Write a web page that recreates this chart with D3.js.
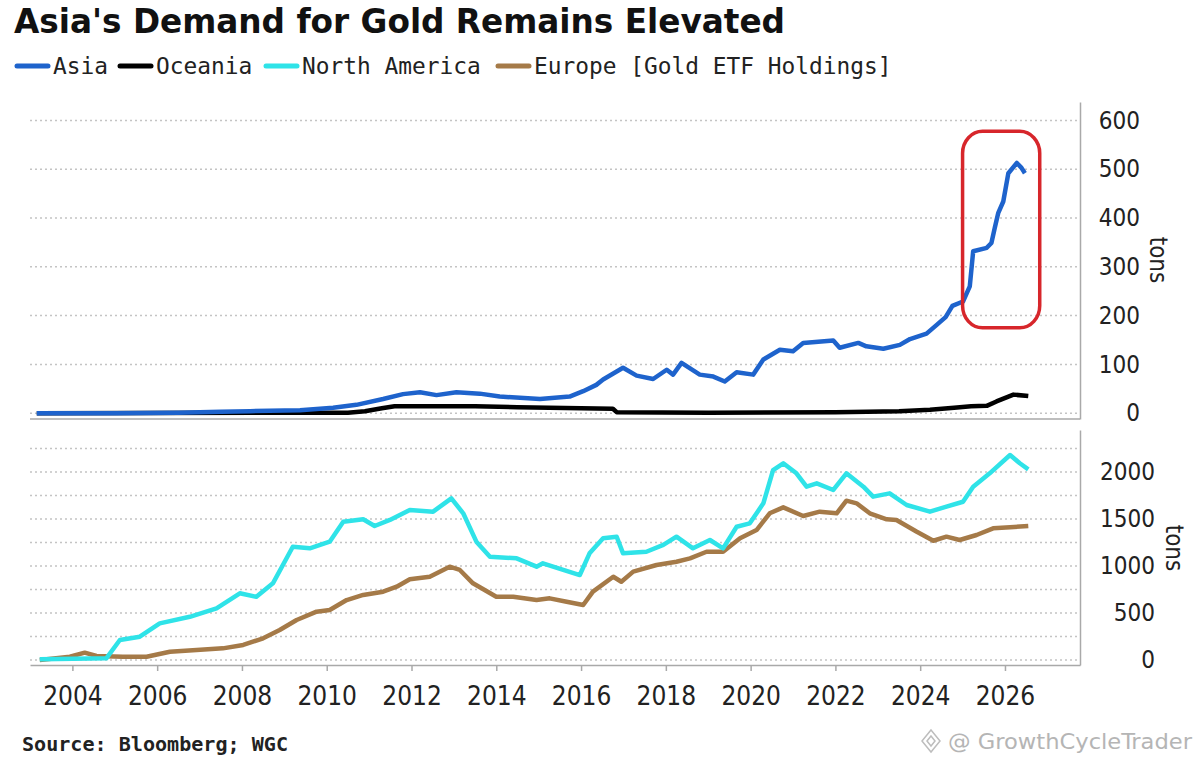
<!DOCTYPE html>
<html>
<head>
<meta charset="utf-8">
<script src="https://cdn.jsdelivr.net/npm/d3@7"></script>
<style>
  html, body { margin: 0; padding: 0; background: #fff; }
  svg { display: block; }
</style>
</head>
<body>
<svg width="1200" height="765"></svg>
<script>
// Gold ETF holdings by region, tons. [decimal year, tons]
const asia = [
  [2003.16, 0], [2005.0, 0], [2006.5, 1], [2007.5, 3], [2008.19, 4], [2009.37, 6],
  [2010.15, 11], [2010.7, 17], [2011.33, 29], [2011.8, 39], [2012.2, 43], [2012.59, 37],
  [2013.06, 43], [2013.61, 40], [2014.08, 34], [2015.03, 29], [2015.73, 34], [2016.05, 45],
  [2016.36, 58], [2016.52, 69], [2016.99, 93], [2017.31, 77], [2017.7, 70], [2018.02, 89],
  [2018.17, 79], [2018.37, 103], [2018.8, 79], [2019.12, 75], [2019.39, 65], [2019.67, 84],
  [2020.06, 79], [2020.3, 110], [2020.69, 130], [2021.0, 127], [2021.24, 144], [2021.95, 149],
  [2022.1, 134], [2022.54, 144], [2022.73, 137], [2023.13, 132], [2023.52, 140], [2023.76, 152],
  [2024.15, 163], [2024.39, 181], [2024.6, 197], [2024.76, 220], [2025.01, 229], [2025.17, 260],
  [2025.25, 332], [2025.57, 339], [2025.68, 349], [2025.76, 380], [2025.84, 410], [2025.96, 434],
  [2026.08, 492], [2026.28, 513], [2026.39, 503], [2026.47, 492]
];
const oceania = [
  [2003.16, 0], [2010.5, 1], [2010.9, 4], [2011.3, 10], [2011.6, 14], [2013.5, 14],
  [2014.5, 12], [2016.0, 10], [2016.75, 9], [2016.84, 2], [2019.0, 1], [2022.0, 2],
  [2023.5, 4], [2024.23, 7], [2024.8, 11], [2025.2, 14], [2025.57, 15], [2025.8, 24],
  [2026.2, 38], [2026.55, 35]
];
const northAmerica = [
  [2003.23, 7], [2004.8, 18], [2005.12, 213], [2005.59, 248], [2006.06, 390], [2006.77, 460],
  [2007.4, 550], [2007.95, 710], [2008.34, 673], [2008.73, 816], [2009.2, 1205], [2009.6, 1188],
  [2010.07, 1259], [2010.39, 1471], [2010.86, 1497], [2011.13, 1426], [2011.49, 1490], [2011.96, 1596],
  [2012.51, 1578], [2012.94, 1720], [2013.22, 1561], [2013.53, 1259], [2013.85, 1099], [2014.48, 1082],
  [2014.95, 993], [2015.1, 1029], [2015.58, 958], [2015.97, 904], [2016.2, 1135], [2016.52, 1295],
  [2016.84, 1312], [2016.99, 1135], [2017.54, 1152], [2017.94, 1224], [2018.25, 1312], [2018.64, 1188],
  [2019.04, 1277], [2019.35, 1188], [2019.67, 1418], [2019.98, 1454], [2020.3, 1667], [2020.53, 2021],
  [2020.77, 2093], [2021.08, 1986], [2021.32, 1844], [2021.56, 1880], [2021.95, 1809], [2022.26, 1986],
  [2022.66, 1844], [2022.89, 1738], [2023.28, 1773], [2023.68, 1649], [2024.23, 1578], [2024.62, 1631],
  [2025.01, 1684], [2025.25, 1844], [2025.64, 1986], [2026.12, 2181], [2026.35, 2093], [2026.55, 2029]
];
const europe = [
  [2003.23, 0], [2003.94, 35], [2004.29, 78], [2004.57, 43], [2005.19, 35], [2005.75, 35],
  [2006.3, 88], [2006.93, 106], [2007.55, 124], [2008.03, 160], [2008.5, 231], [2008.89, 319],
  [2009.29, 426], [2009.76, 514], [2010.07, 532], [2010.47, 638], [2010.86, 692], [2011.33, 727],
  [2011.65, 780], [2011.96, 859], [2012.43, 886], [2012.9, 993], [2013.14, 958], [2013.45, 816],
  [2014.0, 673], [2014.4, 673], [2014.95, 638], [2015.26, 656], [2015.66, 620], [2016.05, 585],
  [2016.28, 727], [2016.76, 886], [2016.95, 833], [2017.23, 940], [2017.78, 1011], [2018.25, 1046],
  [2018.57, 1082], [2018.96, 1152], [2019.35, 1152], [2019.75, 1295], [2020.14, 1383], [2020.45, 1561],
  [2020.77, 1624], [2021.24, 1532], [2021.63, 1578], [2022.03, 1561], [2022.26, 1695], [2022.5, 1667],
  [2022.81, 1561], [2023.21, 1497], [2023.44, 1490], [2023.92, 1365], [2024.31, 1269], [2024.62, 1312],
  [2024.93, 1277], [2025.33, 1330], [2025.72, 1401], [2026.12, 1412], [2026.55, 1426]
];

const yearTicks = [2004, 2006, 2008, 2010, 2012, 2014, 2016, 2018, 2020, 2022, 2024, 2026];
const topTicks = [0, 100, 200, 300, 400, 500, 600];
const bottomTicks = [0, 500, 1000, 1500, 2000];
const bottomGrid = [0, 250, 500, 750, 1000, 1250, 1500, 1750, 2000, 2250];
// highlighted area: years and tons
const highlightYears = [2025.0, 2026.82];
const highlightTons = [175, 578];

const legendItems = [
  {name: "Asia", color: "#1e63cc", x: 17},
  {name: "Oceania", color: "#000000", x: 120},
  {name: "North America", color: "#2fe3e8", x: 266},
  {name: "Europe [Gold ETF Holdings]", color: "#a57a48", x: 498}
];

const svg = d3.select("svg");
const width = +svg.attr("width");

svg.append("rect").attr("width", width).attr("height", 765).attr("fill", "#fff");

const left = 30, right = 1080;
const x = d3.scaleLinear().domain([2003.0, 2027.77]).range([left, right]);
const yTop = d3.scaleLinear().domain([-12, 638]).range([419, 102]);
const yBot = d3.scaleLinear().domain([-53, 2447]).range([665, 430]);

// title
svg.append("text")
  .attr("x", 14).attr("y", 33)
  .attr("font-family", "'DejaVu Sans Condensed', 'DejaVu Sans', sans-serif")
  .attr("font-weight", "bold")
  .attr("font-size", 33)
  .attr("textLength", 771).attr("lengthAdjust", "spacingAndGlyphs")
  .attr("fill", "#111")
  .text("Asia's Demand for Gold Remains Elevated");

// legend
const lg = svg.append("g").selectAll("g").data(legendItems).join("g")
  .attr("transform", d => `translate(${d.x},66)`);
lg.append("line").attr("x1", 0).attr("x2", 31)
  .attr("stroke", d => d.color).attr("stroke-width", 5).attr("stroke-linecap", "round");
lg.append("text")
  .attr("x", 36).attr("y", 8)
  .attr("font-family", "'DejaVu Sans Mono', monospace")
  .attr("font-size", 23)
  .attr("fill", "#222")
  .attr("textLength", d => d.name.length * 13.75).attr("lengthAdjust", "spacingAndGlyphs")
  .text(d => d.name);

// gridlines
const gridStyle = sel => sel
  .attr("stroke", "#c4c4c4").attr("stroke-width", 1.5).attr("stroke-dasharray", "2,3");

svg.append("g").selectAll("line").data(topTicks).join("line")
  .attr("x1", left).attr("x2", right - 2)
  .attr("y1", d => yTop(d)).attr("y2", d => yTop(d))
  .call(gridStyle);
svg.append("g").selectAll("line").data(bottomGrid).join("line")
  .attr("x1", left).attr("x2", right - 2)
  .attr("y1", d => yBot(d)).attr("y2", d => yBot(d))
  .call(gridStyle);

// panel frames
const frame = "#a9a9a9";
svg.append("line").attr("x1", left).attr("x2", right).attr("y1", 419).attr("y2", 419)
  .attr("stroke", frame).attr("stroke-width", 1.5);

// right axes
const labelFont = "'DejaVu Sans Condensed', 'DejaVu Sans', sans-serif";
const axTop = svg.append("g").attr("transform", `translate(${right},0)`)
  .call(d3.axisRight(yTop).tickValues(topTicks).tickFormat(d3.format("d"))
    .tickSize(0).tickPadding(60));
axTop.select(".domain").attr("stroke", frame).attr("stroke-width", 1.5);
axTop.selectAll("text").attr("text-anchor", "end")
  .attr("font-family", labelFont).attr("font-size", 24).attr("fill", "#222");

const axBot = svg.append("g").attr("transform", `translate(${right},0)`)
  .call(d3.axisRight(yBot).tickValues(bottomTicks).tickFormat(d3.format("d"))
    .tickSize(0).tickPadding(75));
axBot.select(".domain").attr("stroke", frame).attr("stroke-width", 1.5);
axBot.selectAll("text").attr("text-anchor", "end")
  .attr("font-family", labelFont).attr("font-size", 24).attr("fill", "#222");

// bottom x axis
const axX = svg.append("g").attr("transform", "translate(0,665)")
  .call(d3.axisBottom(x).tickValues(yearTicks).tickFormat(d3.format("d"))
    .tickSize(6).tickSizeOuter(0).tickPadding(16));
axX.select(".domain").attr("stroke", frame).attr("stroke-width", 1.5);
axX.selectAll(".tick line").attr("stroke", frame).attr("stroke-width", 1.5);
axX.selectAll("text")
  .attr("font-family", labelFont).attr("font-size", 26).attr("fill", "#222");

// unit labels
svg.append("text")
  .attr("transform", "translate(1150,260) rotate(90)")
  .attr("text-anchor", "middle")
  .attr("font-family", labelFont).attr("font-size", 24).attr("fill", "#222")
  .text("tons");
svg.append("text")
  .attr("transform", "translate(1166,548) rotate(90)")
  .attr("text-anchor", "middle")
  .attr("font-family", labelFont).attr("font-size", 24).attr("fill", "#222")
  .text("tons");

// series
const lineTop = d3.line().x(d => x(d[0])).y(d => yTop(d[1]));
const lineBot = d3.line().x(d => x(d[0])).y(d => yBot(d[1]));

const drawSeries = (data, gen, color) => svg.append("path")
  .attr("d", gen(data))
  .attr("fill", "none")
  .attr("stroke", color)
  .attr("stroke-width", 4.5)
  .attr("stroke-linejoin", "round");

drawSeries(oceania, lineTop, legendItems[1].color);
drawSeries(asia, lineTop, legendItems[0].color);
drawSeries(europe, lineBot, legendItems[3].color);
drawSeries(northAmerica, lineBot, legendItems[2].color);

// red highlight box
svg.append("rect")
  .attr("x", x(highlightYears[0]))
  .attr("y", yTop(highlightTons[1]))
  .attr("width", x(highlightYears[1]) - x(highlightYears[0]))
  .attr("height", yTop(highlightTons[0]) - yTop(highlightTons[1]))
  .attr("rx", 20).attr("ry", 22)
  .attr("fill", "none")
  .attr("stroke", "#d7262b")
  .attr("stroke-width", 3.5);

// footer
svg.append("text")
  .attr("x", 22).attr("y", 751)
  .attr("font-family", "'DejaVu Sans Mono', monospace")
  .attr("font-weight", "bold")
  .attr("font-size", 19)
  .attr("textLength", 266).attr("lengthAdjust", "spacingAndGlyphs")
  .attr("fill", "#222")
  .text("Source: Bloomberg; WGC");

// watermark
const wm = svg.append("g").attr("transform", "translate(931,741)");
wm.append("path")
  .attr("d", "M0,-11 L9,0 L0,11 L-9,0 Z M0,-5 L4,0 L0,5 L-4,0 Z")
  .attr("fill", "none").attr("stroke", "#bdbdbd").attr("stroke-width", 1.5);
wm.append("text")
  .attr("x", 17).attr("y", 8)
  .attr("font-family", labelFont).attr("font-size", 22)
  .attr("fill", "#b5b5b5")
  .attr("textLength", 244).attr("lengthAdjust", "spacingAndGlyphs")
  .text("@ GrowthCycleTrader");
</script>
</body>
</html>
